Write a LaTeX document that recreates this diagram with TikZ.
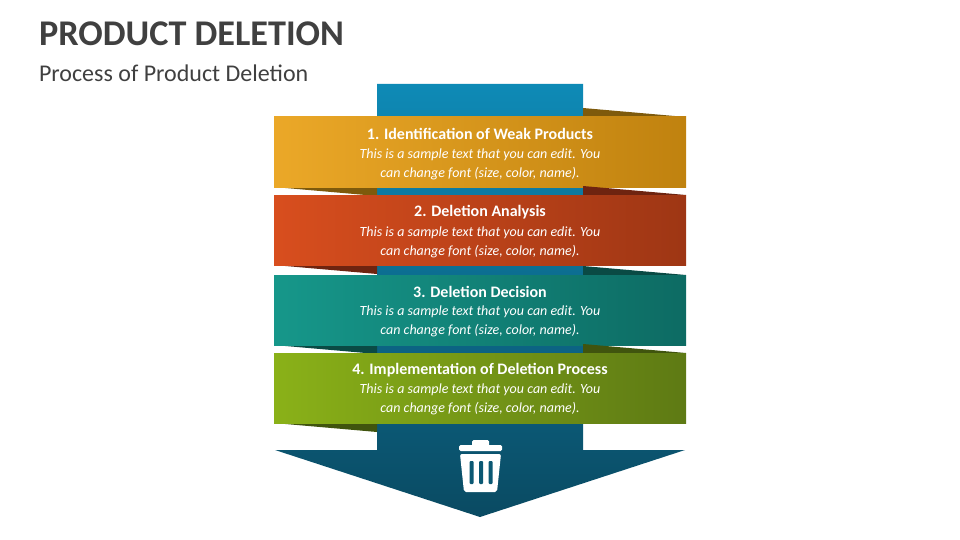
\documentclass[tikz,border=0pt]{standalone}
\usepackage{fontspec}
\setmainfont{Carlito}
\begin{document}
\begin{tikzpicture}[x=1pt,y=-1pt,
  ttl/.style={font=\bfseries\fontsize{16}{18}\selectfont,text=white},
  bdy/.style={font=\itshape\fontsize{14}{19}\selectfont,text=white,align=center}]
\useasboundingbox (0,0) rectangle (960,540);
\definecolor{arA}{HTML}{0E8AB6}\definecolor{arB}{HTML}{0A4A62}
\node[anchor=west,font=\bfseries\fontsize{36.2}{38}\selectfont,text={rgb,255:red,64;green,64;blue,64}] (t) at (35.5,34) {PRODUCT DELETION};
\node[anchor=west,font=\fontsize{24}{26}\selectfont,text={rgb,255:red,64;green,64;blue,64}] (s) at (35.5,73) {Process of Product Deletion};
% arrow
\shade[top color=arA,bottom color=arB] (377,84) -- (583,84) -- (583,450) -- (685,450) -- (480,517) -- (275,450) -- (377,450) -- cycle;
% bands
\foreach \t/\cl/\cr/\cd/\n in {117/EBA828/C0820F/7E5A0C/1,195/D84E1E/9E3614/6E2410/2,275/16978A/0D6B63/0A4A44/3,353/8AB118/5E7A14/40540E/4}{
  \definecolor{cl}{HTML}{\cl}\definecolor{cr}{HTML}{\cr}\definecolor{cd}{HTML}{\cd}
  \fill[cd] (583,\t-9) -- (686,\t) -- (583,\t) -- cycle;
  \fill[cd] (274,\t+70) -- (377,\t+79) -- (377,\t+70) -- cycle;
  \shade[left color=cl,right color=cr] (274,\t) rectangle (686,\t+70);
}
\node[ttl] (h1) at (480,134) {1. Identification of Weak Products};
\node[bdy] (b1) at (480,164) {This is a sample text that you can edit. You\\can change font (size, color, name).};
\node[ttl] (h2) at (480,212) {2. Deletion Analysis};
\node[bdy] (b2) at (480,242) {This is a sample text that you can edit. You\\can change font (size, color, name).};
\node[ttl] (h3) at (480,292) {3. Deletion Decision};
\node[bdy] (b3) at (480,321) {This is a sample text that you can edit. You\\can change font (size, color, name).};
\node[ttl] (h4) at (480,370) {4. Implementation of Deletion Process};
\node[bdy] (b4) at (480,399) {This is a sample text that you can edit. You\\can change font (size, color, name).};
% trash icon
\fill[white,rounded corners=1.5] (459,445) rectangle (502,451);
\fill[white,rounded corners=1.5] (472,440) rectangle (489,447);
\fill[white,rounded corners=2] (460,454) -- (501,454) -- (497,492) -- (464,492) -- cycle;
\definecolor{ic}{HTML}{0B5873}
\foreach \x in {469.5,479,488.5}{\fill[ic,rounded corners=1] (\x,461) rectangle (\x+4,484);}
\end{tikzpicture}
\end{document}
